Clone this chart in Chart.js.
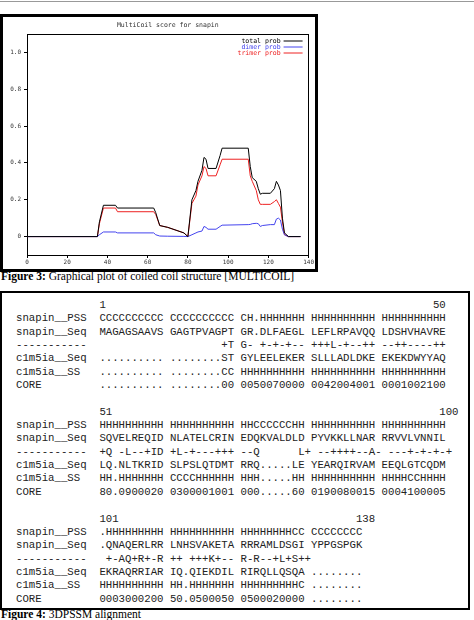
<!DOCTYPE html>
<html><head><meta charset="utf-8">
<script src="https://cdn.jsdelivr.net/npm/chart.js@4"></script>
<style>
body{margin:0;width:474px;height:620px;background:#fff;position:relative;overflow:hidden;font-family:"Liberation Serif",serif;}
#topline{position:absolute;left:0;top:1px;width:474px;height:1px;background:#999;}
#frame1{position:absolute;left:0;top:14px;width:312px;height:252px;border:3px solid #000;}
#c{position:absolute;left:0;top:0;}
.cap{position:absolute;left:1px;font-size:11.5px;color:#000;}
#frame2{position:absolute;left:0;top:291px;width:466px;height:315px;border:2px solid #000;}
pre{position:absolute;left:14px;top:6px;margin:0;font-family:"Liberation Mono","DejaVu Sans Mono",monospace;font-size:10.7px;line-height:13.35px;color:#222;}
</style></head><body>
<div id="topline"></div>
<div id="frame1"><canvas id="c" width="312" height="252"></canvas></div>
<div class="cap" style="top:270px"><b>Figure 3:</b> Graphical plot of coiled coil structure [MULTICOIL]</div>
<div id="frame2"><pre id="aln"></pre></div>
<div class="cap" style="top:608px"><b>Figure 4:</b> 3DPSSM alignment</div>
<script>
const chartTitle = "MultiCoil score for snapin";
const seriesNames = ["total prob", "dimer prob", "trimer prob"];
const xs =     [0, 35, 36, 38, 44, 45, 63, 64, 66, 70, 78, 80, 82, 84, 85, 87, 88, 89, 90, 94, 96, 97, 110, 111, 112, 114, 115, 116, 117, 121, 123, 124, 125, 126, 127, 128, 130, 136];
const total =  [0, 0, 0.08, 0.17, 0.17, 0.155, 0.155, 0.13, 0.06, 0.05, 0.02, 0, 0.2, 0.25, 0.3, 0.36, 0.43, 0.42, 0.37, 0.37, 0.44, 0.48, 0.48, 0.38, 0.32, 0.3, 0.26, 0.23, 0.235, 0.235, 0.26, 0.3, 0.28, 0.25, 0.1, 0.02, 0, 0];
const dimer =  [0, 0, 0.01, 0.025, 0.025, 0.02, 0.02, 0.01, 0.003, 0.002, 0.001, 0, 0.01, 0.02, 0.025, 0.03, 0.055, 0.05, 0.04, 0.04, 0.055, 0.062, 0.065, 0.066, 0.07, 0.072, 0.07, 0.055, 0.06, 0.065, 0.065, 0.095, 0.1, 0.09, 0.04, 0.01, 0, 0];
const trimer = [0, 0, 0.07, 0.155, 0.155, 0.135, 0.135, 0.12, 0.06, 0.05, 0.02, 0, 0.18, 0.22, 0.28, 0.33, 0.38, 0.37, 0.33, 0.33, 0.39, 0.42, 0.42, 0.33, 0.3, 0.25, 0.2, 0.175, 0.175, 0.175, 0.19, 0.2, 0.18, 0.16, 0.08, 0.01, 0, 0];
const xTicks = [0, 20, 40, 60, 80, 100, 120, 140];
const yTicks = [0, 0.2, 0.4, 0.6, 0.8, 1];
const colors = ["#000000", "#4444ee", "#ee2222"];

const mk = (arr, i) => ({label: seriesNames[i], data: xs.map((x, k) => ({x, y: arr[k]})), borderColor: colors[i], borderWidth: 1, pointRadius: 0, tension: 0, fill: false});
const gp = {
  id: 'gp',
  afterDraw(ch) {
    const c = ch.ctx, a = ch.chartArea;
    c.save();
    c.font = '6.5px "DejaVu Sans Mono", monospace';
    c.fillStyle = '#333';
    c.textAlign = 'center';
    c.fillText(chartTitle, (a.left + a.right) / 2, 10);
    c.textAlign = 'right';
    ch.data.datasets.forEach((d, i) => {
      const y = a.top + 7 + i * 6;
      c.fillStyle = d.borderColor;
      c.fillText(d.label, a.right - 28, y + 2);
      c.strokeStyle = d.borderColor; c.lineWidth = 1;
      c.beginPath(); c.moveTo(a.right - 25, y); c.lineTo(a.right - 6, y); c.stroke();
    });
    c.restore();
  }
};
new Chart(document.getElementById('c'), {
  type: 'line',
  data: {datasets: [mk(total, 0), mk(dimer, 1), mk(trimer, 2)]},
  options: {
    responsive: false, animation: false,
    layout: {padding: {top: 17, right: 5, left: 0, bottom: 0}},
    plugins: {legend: {display: false}, tooltip: {enabled: false}},
    scales: {
      x: {type: 'linear', min: 0, max: 140,
          afterBuildTicks: s => { s.ticks = xTicks.map(v => ({value: v})); },
          afterFit: s => { s.height = 14; },
          grid: {drawOnChartArea: false, tickLength: 3, color: '#000'},
          border: {color: '#000'},
          ticks: {maxRotation: 0, padding: 1, font: {size: 6, family: 'DejaVu Sans Mono'}, color: '#333'}},
      y: {min: -0.1, max: 1.1,
          afterBuildTicks: s => { s.ticks = yTicks.map(v => ({value: v})); },
          afterFit: s => { s.width = 24; },
          grid: {drawOnChartArea: false, tickLength: 3, color: '#000'},
          border: {color: '#000'},
          ticks: {padding: 3, font: {size: 6, family: 'DejaVu Sans Mono'}, color: '#333'}},
      x2: {type: 'linear', position: 'top', min: 0, max: 140, ticks: {display: false}, grid: {drawOnChartArea: false, drawTicks: false}, border: {color: '#000'}},
      y2: {position: 'right', min: -0.1, max: 1.1, ticks: {display: false}, grid: {drawOnChartArea: false, drawTicks: false}, border: {color: '#000'}}
    }
  },
  plugins: [gp]
});

const alignment = [
"             1                                                   50",
"snapin__PSS  CCCCCCCCCC CCCCCCCCCC CH.HHHHHHH HHHHHHHHHH HHHHHHHHHH",
"snapin__Seq  MAGAGSAAVS GAGTPVAGPT GR.DLFAEGL LEFLRPAVQQ LDSHVHAVRE",
"-----------                     +T G- +-+-+-- +++L-+--++ --++----++",
"c1m5ia__Seq  .......... ........ST GYLEELEKER SLLLADLDKE EKEKDWYYAQ",
"c1m5ia__SS   .......... ........CC HHHHHHHHHH HHHHHHHHHH HHHHHHHHHH",
"CORE         .......... ........00 0050070000 0042004001 0001002100",
"",
"             51                                                   100",
"snapin__PSS  HHHHHHHHHH HHHHHHHHHH HHCCCCCCHH HHHHHHHHHH HHHHHHHHHH",
"snapin__Seq  SQVELREQID NLATELCRIN EDQKVALDLD PYVKKLLNAR RRVVLVNNIL",
"-----------  +Q -L--+ID +L-+---+++ --Q      L+ --++++--A- ---+-+-+-+",
"c1m5ia__Seq  LQ.NLTKRID SLPSLQTDMT RRQ.....LE YEARQIRVAM EEQLGTCQDM",
"c1m5ia__SS   HH.HHHHHHH CCCCHHHHHH HHH.....HH HHHHHHHHHH HHHHCCHHHH",
"CORE         80.0900020 0300001001 000.....60 0190080015 0004100005",
"",
"             101                                     138",
"snapin__PSS  .HHHHHHHHH HHHHHHHHHH HHHHHHHHCC CCCCCCCC",
"snapin__Seq  .QNAQERLRR LNHSVAKETA RRRAMLDSGI YPPGSPGK",
"-----------   +-AQ+R+-R ++ +++K+-- R-R--+L+S++",
"c1m5ia__Seq  EKRAQRRIAR IQ.QIEKDIL RIRQLLQSQA ........",
"c1m5ia__SS   HHHHHHHHHH HH.HHHHHHH HHHHHHHHHC ........",
"CORE         0003000200 50.0500050 0500020000 ........"
];
document.getElementById('aln').textContent = alignment.join('\n');
</script>
</body></html>
